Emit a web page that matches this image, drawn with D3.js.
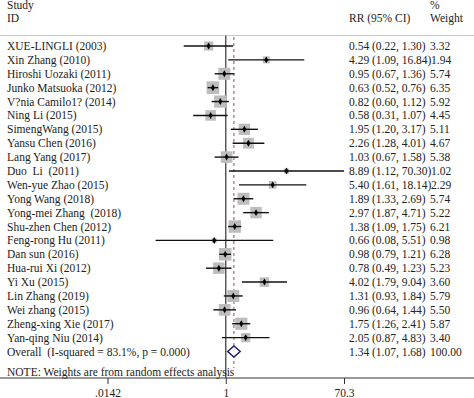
<!DOCTYPE html>
<html>
<head>
<meta charset="utf-8">
<script src="https://cdn.jsdelivr.net/npm/d3@7"></script>
<style>
  body { margin: 0; background: #fff; }
  svg { display: block; }
  text { font-family: "Liberation Serif", "Times New Roman", serif; font-size: 11.5px; fill: #222; white-space: pre; }
</style>
</head>
<body>
<svg id="chart" width="474" height="398"></svg>
<script>
// study labels, estimates, CIs and weights
var studies = ['XUE-LINGLI (2003)', 'Xin Zhang (2010)', 'Hiroshi Uozaki (2011)', 'Junko Matsuoka (2012)',
  'V?nia Camilo1? (2014)', 'Ning Li (2015)', 'SimengWang (2015)', 'Yansu Chen (2016)', 'Lang Yang (2017)',
  'Duo  Li  (2011)', 'Wen-yue Zhao (2015)', 'Yong Wang (2018)', 'Yong-mei Zhang  (2018)', 'Shu-zhen Chen (2012)',
  'Feng-rong Hu (2011)', 'Dan sun (2016)', 'Hua-rui Xi (2012)', 'Yi Xu (2015)', 'Lin Zhang (2019)',
  'Wei zhang (2015)', 'Zheng-xing Xie (2017)', 'Yan-qing Niu (2014)'];
var rr  = [0.54, 4.29, 0.95, 0.63, 0.82, 0.58, 1.95, 2.26, 1.03, 8.89, 5.40, 1.89, 2.97, 1.38, 0.66, 0.98, 0.78, 4.02, 1.31, 0.96, 1.75, 2.05];
var lo  = [0.22, 1.09, 0.67, 0.52, 0.60, 0.31, 1.20, 1.28, 0.67, 1.12, 1.61, 1.33, 1.87, 1.09, 0.08, 0.79, 0.49, 1.79, 0.93, 0.64, 1.26, 0.87];
var hi  = [1.30, 16.84, 1.36, 0.76, 1.12, 1.07, 3.17, 4.01, 1.58, 70.30, 18.14, 2.69, 4.71, 1.75, 5.51, 1.21, 1.23, 9.04, 1.84, 1.44, 2.41, 4.83];
var weights = [3.32, 1.94, 5.74, 6.35, 5.92, 4.45, 5.11, 4.67, 5.38, 1.02, 2.29, 5.74, 5.22, 6.21, 0.98, 6.28, 5.23, 3.60, 5.79, 5.50, 5.87, 3.40];
var overall = {label: 'Overall  (I-squared = 83.1%, p = 0.000)', rr: 1.34, lo: 1.07, hi: 1.68, w: 100.00};
var axisTicks = [0.0142, 1, 70.3];
var tickLabels = ['.0142', '1', '70.3'];

var svg = d3.select('#chart');
var f2 = d3.format('.2f');

var x = d3.scaleLog().domain([0.0142, 70.3]).range([107.5, 344]);
var y = d3.scaleLinear().domain([0, 22]).range([46, 351.5]);

var axisY = 378;

// header
svg.append('text').attr('x', 7).attr('y', 9).text('Study');
svg.append('text').attr('x', 7).attr('y', 22).text('ID');
svg.append('text').attr('x', 349).attr('y', 22).text('RR (95% CI)');
svg.append('text').attr('x', 430).attr('y', 9).text('%');
svg.append('text').attr('x', 430).attr('y', 22).text('Weight');
svg.append('line').attr('x1', 0).attr('x2', 474).attr('y1', 35.5).attr('y2', 35.5)
  .attr('stroke', '#c8c8c8').attr('stroke-width', 1);

// null line and overall line
svg.append('line').attr('x1', x(1)).attr('x2', x(1)).attr('y1', 35.5).attr('y2', axisY)
  .attr('stroke', '#444').attr('stroke-width', 1.3);
svg.append('line').attr('x1', x(overall.rr)).attr('x2', x(overall.rr)).attr('y1', 37).attr('y2', 368)
  .attr('stroke', '#9c4a50').attr('stroke-width', 1).attr('stroke-dasharray', '3,3');

var rows = studies.map(function(s, i) {
  return {name: s, rr: rr[i], lo: lo[i], hi: hi[i], w: weights[i], i: i};
});

var g = svg.append('g');

// boxes
g.selectAll('rect.box').data(rows).enter().append('rect')
  .attr('class', 'box')
  .attr('x', function(d) { return x(d.rr) - 2.5 * Math.sqrt(d.w); })
  .attr('y', function(d) { return y(d.i) - 2.5 * Math.sqrt(d.w); })
  .attr('width', function(d) { return 5 * Math.sqrt(d.w); })
  .attr('height', function(d) { return 5 * Math.sqrt(d.w); })
  .attr('fill', '#bdbdbd');

// CI lines
g.selectAll('line.ci').data(rows).enter().append('line')
  .attr('class', 'ci')
  .attr('x1', function(d) { return x(d.lo); })
  .attr('x2', function(d) { return x(d.hi); })
  .attr('y1', function(d) { return y(d.i); })
  .attr('y2', function(d) { return y(d.i); })
  .attr('stroke', '#111').attr('stroke-width', 1.4);

// point estimates
g.selectAll('path.pt').data(rows).enter().append('path')
  .attr('class', 'pt')
  .attr('d', d3.symbol().type(d3.symbolDiamond).size(14))
  .attr('transform', function(d) { return 'translate(' + x(d.rr) + ',' + y(d.i) + ')'; })
  .attr('fill', '#000');

// labels
g.selectAll('text.name').data(rows).enter().append('text')
  .attr('class', 'name')
  .attr('x', 7).attr('y', function(d) { return y(d.i) + 4; })
  .text(function(d) { return d.name; });
g.selectAll('text.est').data(rows).enter().append('text')
  .attr('class', 'est')
  .attr('x', 349).attr('y', function(d) { return y(d.i) + 4; })
  .text(function(d) { return f2(d.rr) + ' (' + f2(d.lo) + ', ' + f2(d.hi) + ')'; });
g.selectAll('text.wt').data(rows).enter().append('text')
  .attr('class', 'wt')
  .attr('x', function(d) { return d.hi >= 10 ? 431 : 430; })
  .attr('y', function(d) { return y(d.i) + 4; })
  .text(function(d) { return f2(d.w); });

// overall
var oy = y(22);
svg.append('path')
  .attr('d', 'M' + x(overall.lo) + ',' + oy + 'L' + x(overall.rr) + ',' + (oy - 5.5) +
    'L' + x(overall.hi) + ',' + oy + 'L' + x(overall.rr) + ',' + (oy + 5.5) + 'Z')
  .attr('fill', '#fff').attr('stroke', '#1a1a6e').attr('stroke-width', 1.4);
svg.append('text').attr('x', 7).attr('y', oy + 4).text(overall.label);
svg.append('text').attr('x', 349).attr('y', oy + 4)
  .text(f2(overall.rr) + ' (' + f2(overall.lo) + ', ' + f2(overall.hi) + ')');
svg.append('text').attr('x', 430).attr('y', oy + 4).text(f2(overall.w));

svg.append('text').attr('x', 7).attr('y', 376).text('NOTE: Weights are from random effects analysis');

// x axis
var axis = svg.append('g').attr('transform', 'translate(0,' + axisY + ')')
  .call(d3.axisBottom(x).tickValues(axisTicks).tickSize(6).tickPadding(5)
    .tickFormat(function(d, i) { return tickLabels[i]; }));
axis.select('.domain').remove();
axis.append('line').attr('x1', 0).attr('x2', 474).attr('stroke', '#333').attr('stroke-width', 1);
axis.selectAll('.tick line').attr('stroke', '#333');
axis.selectAll('.tick text').attr('font-family', '"Liberation Serif", serif').attr('font-size', '11px').attr('fill', '#222');
</script>
</body>
</html>
